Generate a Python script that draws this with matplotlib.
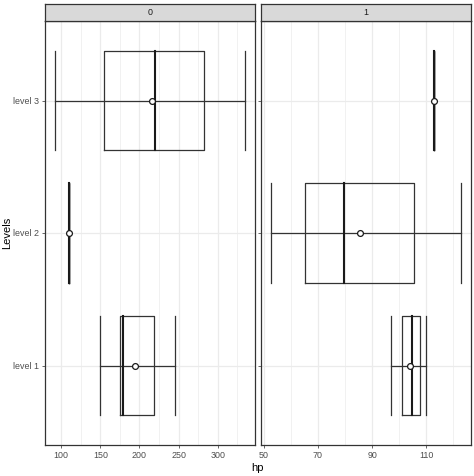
import matplotlib
matplotlib.use("Agg")
import matplotlib.pyplot as plt
import numpy as np

plt.rcParams["font.family"] = ["Liberation Sans", "DejaVu Sans"]

groups = ["0", "1"]
levels = ["level 1", "level 2", "level 3"]

# per group, per level
whisker_low = {"0": [150, 110, 91.5], "1": [97, 52.5, 113]}
q1 = {"0": [174.5, 110, 154.5], "1": [101, 65.3, 113]}
median = {"0": [179.5, 110, 219.5], "1": [104.7, 79.5, 113]}
q3 = {"0": [219, 110, 282], "1": [107.7, 105.5, 113]}
whisker_high = {"0": [245, 110, 334.7], "1": [110, 122.8, 113]}
means = {"0": [194, 110, 216], "1": [104.1, 85.6, 113]}

x_major = {"0": [100, 150, 200, 250, 300], "1": [50, 70, 90, 110]}
x_minor = {"0": [125, 175, 225, 275, 325], "1": [60, 80, 100, 120]}

W, H = 474, 476
fig = plt.figure(figsize=(W / 100, H / 100), dpi=100)
fig.patch.set_facecolor("white")

panel_top, panel_bot = 21, 445
strip_top = 4
lefts = [45, 261]
pw = 209.5

def fx(px):
    return px / W

def fy(py):
    return 1 - py / H

dark = "#333333"
grid_col = "#EBEBEB"
tick_fs = 6.4
title_fs = 8.0

for gi, g in enumerate(groups):
    ax = fig.add_axes([fx(lefts[gi]), fy(panel_bot), pw / W, (panel_bot - panel_top) / H])
    lo = min(whisker_low[g])
    hi = max(whisker_high[g])
    r = hi - lo
    ax.set_xlim(lo - 0.05 * r, hi + 0.05 * r)
    ax.set_ylim(0.4, 3.6)
    for xm in x_minor[g]:
        ax.axvline(xm, color=grid_col, lw=0.5, zorder=0)
    for xm in x_major[g]:
        ax.axvline(xm, color=grid_col, lw=0.9, zorder=0)
    for yi in range(1, 4):
        ax.axhline(yi, color=grid_col, lw=0.9, zorder=0)
    hw = 0.375
    for i in range(3):
        y = i + 1
        wl, wh = whisker_low[g][i], whisker_high[g][i]
        # errorbar (whiskers)
        ax.plot([wl, wh], [y, y], color=dark, lw=0.9, zorder=2)
        ax.plot([wl, wl], [y - hw, y + hw], color=dark, lw=0.9, zorder=2)
        ax.plot([wh, wh], [y - hw, y + hw], color=dark, lw=0.9, zorder=2)
        # box
        b1, b3 = q1[g][i], q3[g][i]
        ax.plot([b1, b3, b3, b1, b1], [y - hw, y - hw, y + hw, y + hw, y - hw],
                color=dark, lw=0.9, zorder=3)
        m = median[g][i]
        ax.plot([m, m], [y - hw, y + hw], color="#1a1a1a", lw=1.5, zorder=4)
        ax.plot([means[g][i]], [y], marker="o", ms=4.2, mfc="white", mec="#1a1a1a",
                mew=0.9, zorder=5, linestyle="none")
    ax.set_xticks(x_major[g])
    ax.set_xticklabels([str(v) for v in x_major[g]])
    ax.set_yticks([1, 2, 3])
    if gi == 0:
        ax.set_yticklabels(levels)
    else:
        ax.set_yticklabels([])
        ax.tick_params(axis="y", length=0)
    ax.tick_params(axis="both", labelsize=tick_fs, colors="#4D4D4D", length=2.5, width=0.6, pad=2)
    for s in ax.spines.values():
        s.set_color("#333333")
        s.set_linewidth(0.9)
    # strip
    sax = fig.add_axes([fx(lefts[gi]), fy(panel_top), pw / W, (panel_top - strip_top) / H])
    sax.set_facecolor("#D9D9D9")
    sax.set_xticks([])
    sax.set_yticks([])
    for s in sax.spines.values():
        s.set_color("#333333")
        s.set_linewidth(0.9)
    sax.text(0.5, 0.5, g, ha="center", va="center", fontsize=tick_fs, color="#1A1A1A",
             transform=sax.transAxes)

fig.text(fx(257.5), fy(468), "hp", ha="center", va="center", fontsize=title_fs, color="black")
fig.text(fx(7), fy(233), "Levels", ha="center", va="center", rotation=90,
         fontsize=title_fs, color="black")

fig.savefig("out.png", dpi=100)
